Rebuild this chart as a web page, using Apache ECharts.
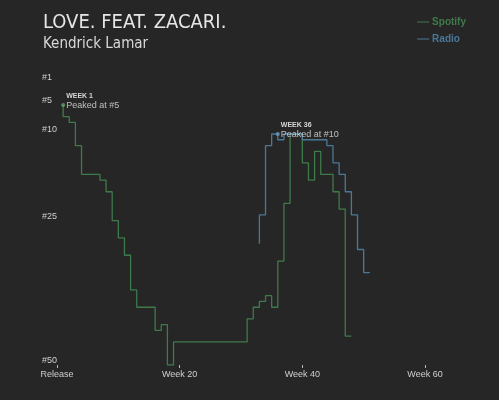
<!DOCTYPE html>
<html>
<head>
    <meta charset="utf-8" />
    <script src="https://cdn.jsdelivr.net/npm/echarts@6/dist/echarts.min.js"></script>
    <style>body{margin:0;background:#262626}</style>
</head>
<body>
    <div id="main" style="width:499px;height:400px;"></div>
    <script type="text/javascript">
        // weekly chart positions (step drawn from previous week)
        var spotifyWeeks = [1,2,3,4,5,6,7,8,9,10,11,12,13,14,15,16,17,18,19,20,21,22,23,24,25,26,27,28,29,30,31,32,33,34,35,36,37,38,39,40,41,42,43,44,45,46,47,48]
        var spotifyRank = [5,7,8,12,17,17,17,18,20,25,28,31,37,40,40,40,44,43,50,46,46,46,46,46,46,46,46,46,46,46,46,42,40,39,38,40,32,22,10,10,15,18,13,17,17,20,23,45]
        var radioWeeks = [33,34,35,36,37,38,39,40,41,42,43,44,45,46,47,48,49,50,51]
        var radioRank = [29,24,12,10,11,10,10,10,11,11,11,11,12,15,17,20,24,30,34]
        var yTicks = [1, 5, 10, 25, 50]
        var xTicks = [0, 20, 40, 60]
        var xTickNames = ['Release', 'Week 20', 'Week 40', 'Week 60']
        var peaks = [
            { name: 'Spotify', week: 1, rank: 5 },
            { name: 'Radio', week: 36, rank: 10 }
        ]
        var green = '#3f7a4b'
        var blue = '#4a7896'

        function pairs(xs, ys) {
            let out = []
            for (var i = 0; i < xs.length; i++) out.push([xs[i], ys[i]])
            return out
        }

        var myChart = echarts.init(document.getElementById("main"))
        option = {
            backgroundColor: '#262626',
            animation: false,
            title: {
                text: 'LOVE. FEAT. ZACARI.',
                subtext: 'Kendrick Lamar',
                left: 38, top: 8,
                itemGap: 4,
                textStyle: { color: '#e6e6e6', fontSize: 20, fontWeight: 'normal', fontFamily: 'DejaVu Sans Condensed' },
                subtextStyle: { color: '#d8d8d8', fontSize: 15, fontFamily: 'DejaVu Sans Condensed' }
            },
            legend: {
                orient: 'vertical',
                right: 28, top: 12,
                itemWidth: 12, itemHeight: 1, itemGap: 7,
                icon: 'rect',
                data: ['Spotify', 'Radio'],
                textStyle: { fontSize: 10, fontWeight: 'bold', color: 'inherit', padding: [0, 0, 0, -2] }
            },
            grid: { left: 57, right: 74, top: 82, bottom: 35 },
            xAxis: {
                type: 'value', min: 0, max: 60,
                axisLine: { show: false },
                splitLine: { show: false },
                axisTick: { show: true, customValues: xTicks, length: 3, lineStyle: { color: '#bbb' } },
                axisLabel: {
                    customValues: xTicks, color: '#cfcfcf', fontSize: 9, margin: 5,
                    formatter: function (v) { return xTickNames[xTicks.indexOf(v)] }
                }
            },
            yAxis: {
                type: 'value', inverse: true, min: 1, max: 50,
                axisLine: { show: false }, axisTick: { show: false },
                splitLine: { show: false },
                axisLabel: {
                    customValues: yTicks, color: '#cfcfcf', fontSize: 9,
                    align: 'left', margin: 15, verticalAlign: 'bottom',
                    formatter: '#{value}'
                }
            },
            series: [
                {
                    name: 'Spotify', type: 'line', step: 'start', symbol: 'none',
                    color: green, lineStyle: { width: 1.3 },
                    data: pairs(spotifyWeeks, spotifyRank),
                    markLine: {
                        silent: true, symbol: 'none', label: { show: false },
                        lineStyle: { color: '#6a6a6a', type: [1, 2], width: 1 },
                        data: yTicks.map(function (t) { return [{ coord: [-2.5, t] }, { coord: [64, t] }] })
                    }
                },
                {
                    name: 'Radio', type: 'line', step: 'start', symbol: 'none',
                    color: blue, lineStyle: { width: 1.3 },
                    data: pairs(radioWeeks, radioRank)
                },
                {
                    type: 'scatter', symbolSize: 4, z: 5,
                    data: peaks.map(function (p) {
                        return {
                            value: [p.week, p.rank],
                            itemStyle: { color: p.name == 'Spotify' ? '#5fa86c' : '#6aa0c4' },
                            label: {
                                show: true, position: 'right', distance: 1, offset: [0, -4],
                                formatter: '{a|WEEK ' + p.week + '}\n{b|Peaked at #' + p.rank + '}',
                                rich: {
                                    a: { color: '#fff', fontSize: 7, fontWeight: 'bold', lineHeight: 9 },
                                    b: { color: '#e0e0e0', fontSize: 9, lineHeight: 10 }
                                }
                            }
                        }
                    })
                }
            ]
        }
        myChart.setOption(option)
    </script>
</body>
</html>
